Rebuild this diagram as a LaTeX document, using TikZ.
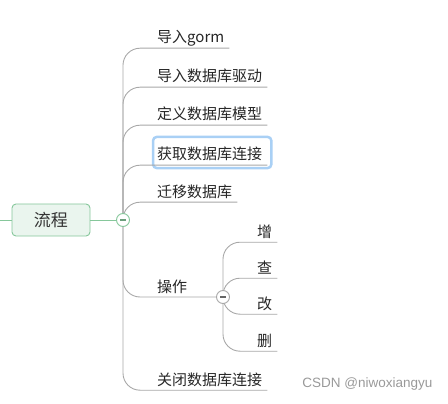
\documentclass[tikz,border=0pt]{standalone}
\usepackage{fontspec}
\setmainfont{Noto Sans CJK SC}
\newfontfamily\markfont{Liberation Sans}
\usetikzlibrary{positioning}
\definecolor{rootgreen}{HTML}{86C79B}
\definecolor{rootfill}{HTML}{EAF5EE}
\definecolor{branchgray}{HTML}{A8A8A8}
\definecolor{hiblue}{HTML}{A9D0F5}
\tikzset{
  x=1pt, y=-1pt, % pixel-like units, y going down
  branch/.style={draw=branchgray, line width=0.9pt, rounded corners=17pt},
  % text sitting on its own underline
  topic/.style={anchor=base west, inner xsep=5pt, inner ysep=3pt,
    text height=12pt, text depth=2pt, text=black!85,
    font=\fontsize{15}{17}\selectfont},
  hub/.style={circle, draw=#1, fill=white, line width=0.9pt,
    minimum size=13pt, inner sep=0pt},
}

\begin{document}
\begin{tikzpicture}
  \useasboundingbox (0,0) rectangle (448,404);

  \node[draw=rootgreen, fill=rootfill, rounded corners=4pt, line width=0.9pt,
    minimum width=78pt, minimum height=32pt, text=black!80,
    font=\fontsize{17}{19}\selectfont] (root) at (51,220) {流程};
  \coordinate (root_in) at (0,220);
  \coordinate (main_hub) at (123,220);
  \coordinate (op_hub) at (223,297);

  % first level
  \node[topic] (gorm) at (152,43) {导入gorm};
  \node[topic] (driver) at (152,82) {导入数据库驱动};
  \node[topic] (model) at (152,120) {定义数据库模型};
  \node[topic] (conn) at (152,160) {获取数据库连接};
  \node[topic] (migrate) at (152,197) {迁移数据库};
  \node[topic] (ops) at (152,292) {操作};
  \node[topic] (close) at (152,385) {关闭数据库连接};

  % second level
  \node[topic] (add) at (252,237) {增};
  \node[topic] (query) at (252,273) {查};
  \node[topic] (edit) at (252,309) {改};
  \node[topic] (del) at (252,346) {删};

  \draw[hiblue, line width=2.5pt, rounded corners=4pt]
    ([shift={(1pt,-3pt)}]conn.south west) rectangle ([shift={(4pt,8pt)}]conn.north east);

  \draw[rootgreen, line width=0.9pt] (root_in) -- (root.west)
    (root.east) -- (main_hub);

  \foreach \t in {gorm, driver, model, conn, migrate, close}
    \draw[branch] (main_hub) |- (\t.south east);
  \draw[branch] (main_hub) |- (op_hub);
  \foreach \t in {add, query, edit, del}
    \draw[branch] (op_hub) |- (\t.south east);

  \node[hub=rootgreen] (main_knob) at (main_hub) {};
  \draw[rootgreen!80!black, line width=1.2pt] ([xshift=-3pt]main_knob.center) -- ([xshift=3pt]main_knob.center);
  \node[hub=branchgray] (op_knob) at (op_hub) {};
  \draw[black!60, line width=1.2pt] ([xshift=-3pt]op_knob.center) -- ([xshift=3pt]op_knob.center);

  \node[text=black!40, font=\markfont\fontsize{13.5}{15}\selectfont, anchor=east]
    (mark) at (436,384) {CSDN @niwoxiangyu};
\end{tikzpicture}
\end{document}
